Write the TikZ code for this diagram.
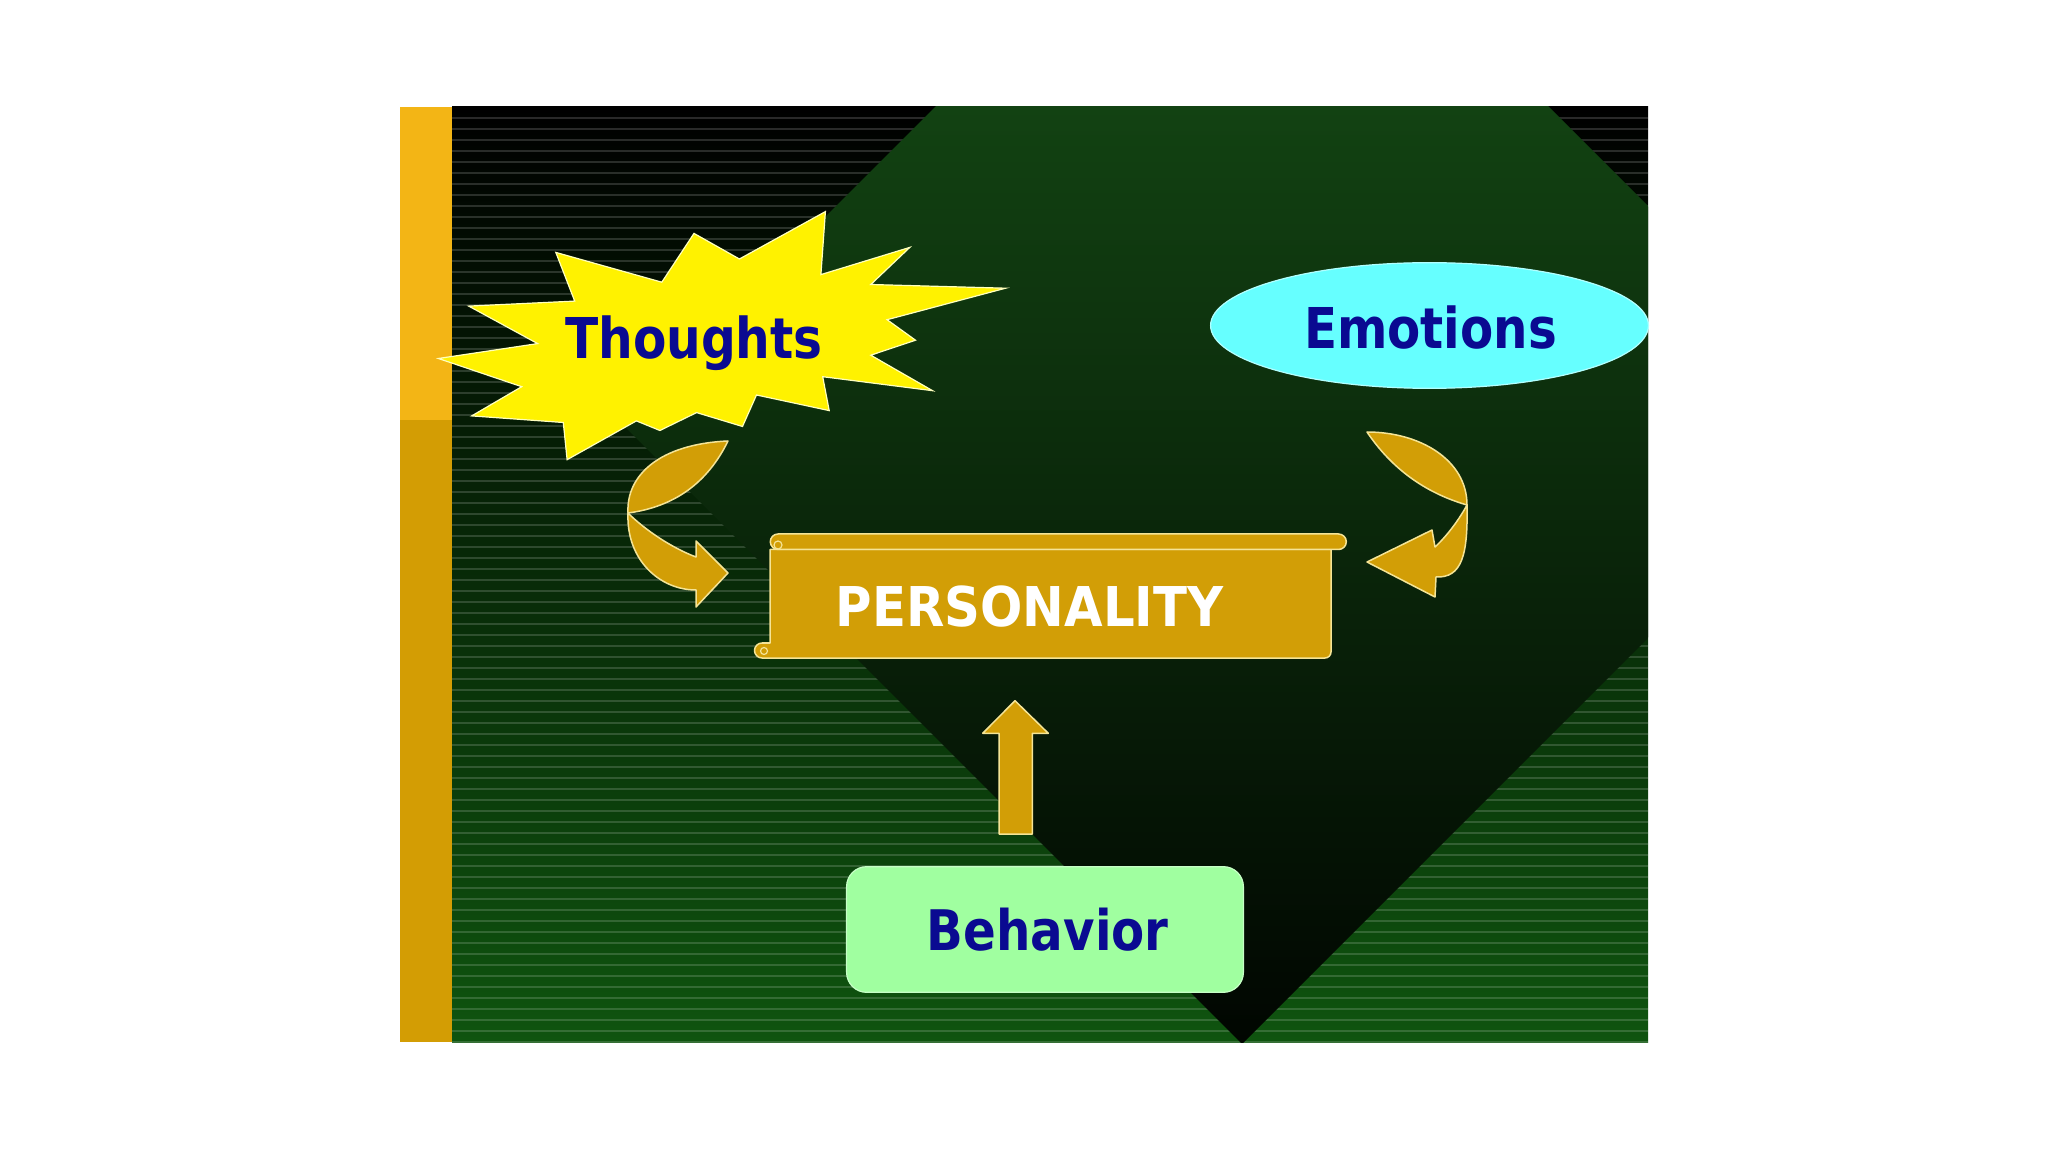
\documentclass[tikz,border=0pt]{standalone}
\usepackage{fontspec}
\setmainfont{DejaVu Sans}
\usetikzlibrary{shapes.geometric}
\definecolor{navyt}{RGB}{10,10,145}
\definecolor{gold}{RGB}{210,158,6}
\definecolor{goldlight}{RGB}{243,181,21}
\definecolor{golddark}{RGB}{211,157,4}
\definecolor{edgecol}{RGB}{245,228,150}
\definecolor{cyanfill}{RGB}{102,255,255}
\definecolor{greenfill}{RGB}{160,255,160}
\definecolor{bgbottom}{RGB}{15,84,15}
\definecolor{dtop}{RGB}{18,66,18}
\definecolor{dbottom}{RGB}{1,6,1}
\definecolor{staredge}{RGB}{255,255,190}
\begin{document}
\begin{tikzpicture}[x=0.01cm,y=-0.01cm,
  arrowst/.style={fill=gold, draw=edgecol, line width=0.015cm, line join=round},
  scrollst/.style={fill=gold, draw=edgecol, line width=0.015cm, line join=round},
  stripeline/.style={draw=white, draw opacity=0.16, line width=0.022cm},
  lbl/.style={anchor=base, inner sep=0pt, outer sep=0pt}
]
\useasboundingbox (0,0) rectangle (2048,1152);
\fill[white] (0,0) rectangle (2048,1152);
% striped background
\shade[top color=black, bottom color=bgbottom] (452,107) rectangle (1648,1042);
\foreach \k in {0,...,84} \draw[stripeline] (452,{117.7+11*\k}) -- (1648,{117.7+11*\k});
% dark diamond
\begin{scope}
\clip (1242,-200) -- (1864,422) -- (1242,1044) -- (620,422) -- cycle;
\shade[top color=dtop, bottom color=dbottom] (452,107) rectangle (1648,1042);
\end{scope}
% orange bar
\fill[goldlight] (400,107) rectangle (452,420);
\fill[golddark] (400,420) rectangle (452,1042);

% Thoughts starburst
\filldraw[fill=yellow, draw=staredge, line width=0.012cm, line join=miter]
 (825.4,211.6) -- (820.9,274.6) -- (909.8,247.4) -- (870.8,284.5) -- (1005.6,288.2)
 -- (887.1,319.7) -- (915.5,340.2) -- (870.8,355.2) -- (932.6,390.7) -- (822.7,376.7)
 -- (829.2,410.6) -- (756.5,395.0) -- (742.5,426.5) -- (696.6,412.6) -- (659.9,430.5)
 -- (636.4,420.9) -- (567.1,459.7) -- (563.3,422.5) -- (471.7,415.9) -- (521.7,386.7)
 -- (438.4,358.5) -- (537.6,343.6) -- (468.7,306.1) -- (574.7,301.1) -- (555.8,252.4)
 -- (661.8,282.2) -- (694.0,233.4) -- (739.4,259.0) -- cycle;
\node[lbl, text=navyt, font=\bfseries\fontsize{16pt}{16pt}\selectfont] (thoughts) at (694,358.5) {\scalebox{0.865}[1]{Thoughts}};

% Emotions ellipse
\node[ellipse, fill=cyanfill, draw=cyanfill!50!white, line width=0.012cm, minimum width=4.376cm, minimum height=1.256cm, inner sep=0pt] (emotionsshape) at (1429.5,325.5) {};
\node[lbl, text=navyt, font=\bfseries\fontsize{16pt}{16pt}\selectfont] (emotions) at (1430.5,348.3) {\scalebox{0.86}[1]{Emotions}};

% left curved arrow
\filldraw[arrowst] (628,513) .. controls (626,475) and (660,444) .. (728,441)
  .. controls (707.6,482.9) and (674.2,506.9) .. (628,513) -- cycle;
\filldraw[arrowst] (628,513) .. controls (626,560) and (660,590) .. (696,590)
  -- (696,607) -- (728,573) -- (696,541) -- (696,557)
  .. controls (672,548) and (645,530) .. (628,513) -- cycle;

% right curved arrow
\filldraw[arrowst] (1367,432) .. controls (1420,432) and (1467,460) .. (1467,505)
  .. controls (1424.9,492.8) and (1391.5,468.4) .. (1367,432) -- cycle;
\filldraw[arrowst] (1467,505) .. controls (1468,555) and (1462,578) .. (1436,577)
  -- (1435,597) -- (1367,562) -- (1432,530) -- (1435,547)
  .. controls (1448,535) and (1460,518) .. (1467,505) -- cycle;

% Personality scroll
\filldraw[scrollst] (770,549.5) -- (1331,549.5) -- (1331,652)
  .. controls (1331,655.3) and (1328.3,658) .. (1325,658) -- (762,658)
  .. controls (757.9,658) and (754.5,654.6) .. (754.5,650.5)
  .. controls (754.5,646.4) and (757.9,643) .. (762,643) -- (770,643) -- cycle;
\filldraw[scrollst] (778,534) -- (1338.5,534)
  .. controls (1342.8,534) and (1346.3,537.5) .. (1346.3,541.75)
  .. controls (1346.3,546) and (1342.8,549.5) .. (1338.5,549.5) -- (778,549.5)
  .. controls (773.7,549.5) and (770.3,546) .. (770.3,541.75)
  .. controls (770.3,537.5) and (773.7,534) .. (778,534) -- cycle;
\draw[draw=edgecol, line width=0.012cm] (778,545) circle[radius=4];
\draw[draw=edgecol, line width=0.012cm] (764,651) circle[radius=3.5];
\node[lbl, text=white, font=\bfseries\fontsize{15.6pt}{16pt}\selectfont] (personality) at (1029.6,626.7) {\scalebox{0.908}[1]{PERSONALITY}};

% up arrow
\filldraw[arrowst] (1015,700.7) -- (1048.3,733.3) -- (1032.3,733.3) -- (1032.3,834)
  -- (999,834) -- (999,733.3) -- (982.7,733.3) -- cycle;

% Behavior box
\node[rectangle, rounded corners=0.2cm, fill=greenfill, draw=greenfill!60!white, line width=0.012cm, minimum width=3.966cm, minimum height=1.256cm, inner sep=0pt] (behaviorbox) at (1045,929.5) {};
\node[lbl, text=navyt, font=\bfseries\fontsize{15.9pt}{16pt}\selectfont] (behavior) at (1047.8,950.7) {\scalebox{0.864}[1]{Behavior}};
\end{tikzpicture}
\end{document}
